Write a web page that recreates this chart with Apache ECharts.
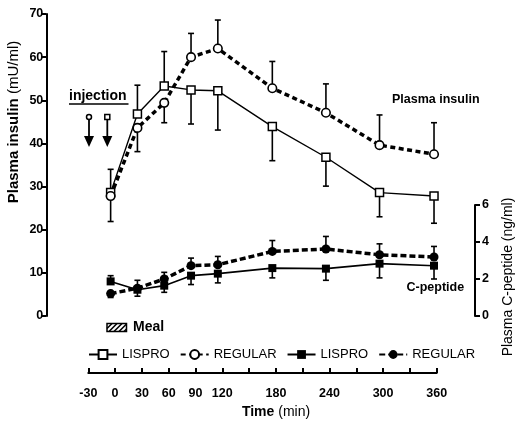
<!DOCTYPE html>
<html>
<head>
<meta charset="utf-8">
<script src="https://cdn.jsdelivr.net/npm/echarts@6/dist/echarts.min.js"></script>
<style>
html,body{margin:0;padding:0;background:#fff;}
#chart{width:520px;height:425px;}
</style>
</head>
<body>
<div id="chart"></div>
<script>
// ---- data ----
var times = [-5, 25, 55, 85, 115, 176, 236, 296, 357];
var xTickLabels = [-30, 0, 30, 60, 90, 120, 180, 240, 300, 360];
var insulinTicks = [0, 10, 20, 30, 40, 50, 60, 70];
var cpepTicks = [0, 2, 4, 6];

var insulinLispro     = [28.6, 46.8, 53.3, 52.4, 52.2, 43.9, 36.8, 28.6, 27.8];
var insulinLisproBar  = [34.0, 53.5, 61.3, 44.5, 43.1, 36.0, 30.1, 23.0, 21.5];
var insulinRegular    = [27.8, 43.6, 49.4, 60.0, 62.0, 52.8, 47.1, 39.6, 37.5];
var insulinRegularBar = [21.9, 38.1, 44.8, 65.5, 68.6, 59.0, 53.8, 46.6, 44.8];

var cpepLispro     = [1.87, 1.42, 1.64, 2.18, 2.29, 2.59, 2.56, 2.83, 2.72];
var cpepLisproBar  = [2.18, 1.07, 1.28, 1.70, 1.79, 2.06, 1.93, 2.06, 2.00];
var cpepRegular    = [1.21, 1.50, 2.00, 2.72, 2.77, 3.49, 3.62, 3.31, 3.19];
var cpepRegularBar = [1.00, 1.93, 2.36, 3.13, 3.22, 4.08, 4.30, 3.90, 3.76];

var FONT = 'Liberation Sans';

function pts(vals) { return times.map(function (t, i) { return [t, vals[i]]; }); }
function bars(vals, ends) { return times.map(function (t, i) { return [t, vals[i], ends[i]]; }); }

function errRender(params, api) {
  var x = api.value(0), y = api.value(1), e = api.value(2);
  var p0 = api.coord([x, y]);
  var p1 = api.coord([x, e]);
  var hw = 3;
  var st = { stroke: '#000', lineWidth: 1.6 };
  return {
    type: 'group',
    children: [
      { type: 'line', shape: { x1: p0[0], y1: p0[1], x2: p1[0], y2: p1[1] }, style: st },
      { type: 'line', shape: { x1: p1[0] - hw, y1: p1[1], x2: p1[0] + hw, y2: p1[1] }, style: st }
    ]
  };
}

function errSeries(vals, ends, gi) {
  return {
    type: 'custom', xAxisIndex: gi, yAxisIndex: gi, z: 1,
    renderItem: errRender, data: bars(vals, ends),
    encode: { x: 0, y: [1, 2] }, silent: true
  };
}

// hatch lines for the meal box
function hatch(x, y, w, h) {
  var out = [];
  for (var k = 0; k < 5; k++) {
    var x1 = x - 3 + k * 5, y1 = y + h, x2 = x1 + h, y2 = y;
    if (x1 < x) { y1 = y + h - (x - x1); x1 = x; }
    if (x2 > x + w) { y2 = y + (x2 - (x + w)); x2 = x + w; }
    if (x2 > x1) out.push({ type: 'line', shape: { x1: x1, y1: y1, x2: x2, y2: y2 }, style: { stroke: '#000', lineWidth: 1.6 } });
  }
  return out;
}

function arrow(x, marker) {
  var items = [];
  if (marker === 'circle') {
    items.push({ type: 'circle', shape: { cx: x, cy: 117, r: 2.5 }, style: { fill: '#fff', stroke: '#000', lineWidth: 1.5 } });
  } else {
    items.push({ type: 'rect', shape: { x: x - 2.5, y: 114.5, width: 5, height: 5 }, style: { fill: '#fff', stroke: '#000', lineWidth: 1.5 } });
  }
  items.push({ type: 'line', shape: { x1: x, y1: 120, x2: x, y2: 137 }, style: { stroke: '#000', lineWidth: 1.8 } });
  items.push({ type: 'polygon', shape: { points: [[x - 5, 136], [x + 5, 136], [x, 147]] }, style: { fill: '#000' } });
  return items;
}

var chart = echarts.init(document.getElementById('chart'));

var gridL = 88.3, gridR = 83.3;

var option = {
  backgroundColor: '#fff',
  animation: false,
  textStyle: { fontFamily: FONT, color: '#000' },
  grid: [
    { left: gridL, right: gridR, top: 14, bottom: 109 },
    { left: gridL, right: gridR, top: 205, bottom: 109 }
  ],
  xAxis: [
    {
      type: 'value', gridIndex: 0, min: -30, max: 360, interval: 30,
      position: 'bottom', offset: 57,
      axisLine: { show: true, onZero: false, lineStyle: { color: '#000', width: 2 } },
      axisTick: { show: true, inside: true, length: 5, lineStyle: { color: '#000', width: 2 } },
      axisLabel: {
        color: '#000', fontFamily: FONT, fontWeight: 'bold', fontSize: 12.5, margin: 14,
        formatter: function (v) { return xTickLabels.indexOf(v) >= 0 ? String(v) : ''; }
      },
      splitLine: { show: false }
    },
    { type: 'value', gridIndex: 1, min: -30, max: 360, show: false, axisLine: { onZero: false } }
  ],
  yAxis: [
    {
      type: 'value', gridIndex: 0, min: insulinTicks[0], max: insulinTicks[insulinTicks.length - 1], interval: 10,
      position: 'left', offset: 42,
      axisLine: { show: true, onZero: false, lineStyle: { color: '#000', width: 2 } },
      axisTick: { show: true, length: 5, lineStyle: { color: '#000', width: 2 } },
      axisLabel: { color: '#000', fontFamily: FONT, fontWeight: 'bold', fontSize: 12.5, margin: 3 },
      splitLine: { show: false }
    },
    {
      type: 'value', gridIndex: 1, min: cpepTicks[0], max: cpepTicks[cpepTicks.length - 1], interval: 2,
      position: 'right', offset: 38.3,
      axisLine: { show: true, onZero: false, lineStyle: { color: '#000', width: 2 } },
      axisTick: { show: true, length: 5, lineStyle: { color: '#000', width: 2 } },
      axisLabel: { color: '#000', fontFamily: FONT, fontWeight: 'bold', fontSize: 12.5, margin: 7 },
      splitLine: { show: false }
    }
  ],
  legend: {
    left: 83, top: 343, itemWidth: 28, itemHeight: 11, itemGap: 10,
    selectedMode: false,
    data: ['LISPRO insulin', 'REGULAR insulin', 'LISPRO cpeptide', 'REGULAR cpeptide'],
    formatter: function (n) { return n.split(' ')[0]; },
    textStyle: { fontFamily: FONT, fontSize: 13, color: '#000' }
  },
  series: [
    errSeries(insulinLispro, insulinLisproBar, 0),
    errSeries(insulinRegular, insulinRegularBar, 0),
    errSeries(cpepLispro, cpepLisproBar, 1),
    errSeries(cpepRegular, cpepRegularBar, 1),
    {
      name: 'LISPRO insulin', type: 'line', xAxisIndex: 0, yAxisIndex: 0, z: 3,
      data: pts(insulinLispro), symbol: 'rect', symbolSize: 8, showAllSymbol: true,
      lineStyle: { color: '#000', width: 1.4, type: 'solid' },
      itemStyle: { color: '#fff', borderColor: '#000', borderWidth: 1.5 }
    },
    {
      name: 'REGULAR insulin', type: 'line', xAxisIndex: 0, yAxisIndex: 0, z: 3,
      data: pts(insulinRegular), symbol: 'circle', symbolSize: 8.5, showAllSymbol: true,
      lineStyle: { color: '#000', width: 3.5, type: [5, 3.5] },
      itemStyle: { color: '#fff', borderColor: '#000', borderWidth: 1.6 }
    },
    {
      name: 'LISPRO cpeptide', type: 'line', xAxisIndex: 1, yAxisIndex: 1, z: 3,
      data: pts(cpepLispro), symbol: 'rect', symbolSize: 8, showAllSymbol: true,
      lineStyle: { color: '#000', width: 1.6, type: 'solid' },
      itemStyle: { color: '#000', borderColor: '#000', borderWidth: 0 }
    },
    {
      name: 'REGULAR cpeptide', type: 'line', xAxisIndex: 1, yAxisIndex: 1, z: 3,
      data: pts(cpepRegular), symbol: 'circle', symbolSize: 9, showAllSymbol: true,
      lineStyle: { color: '#000', width: 3.5, type: [6, 3] },
      itemStyle: { color: '#000', borderColor: '#000', borderWidth: 0 }
    }
  ],
  graphic: [].concat(
    [
      {
        type: 'text', x: 14, y: 122, rotation: Math.PI / 2,
        style: {
          text: '{b|Plasma insulin} {n|(mU/ml)}', align: 'center', verticalAlign: 'middle',
          rich: {
            b: { fontFamily: FONT, fontSize: 15, fontWeight: 'bold', fill: '#000' },
            n: { fontFamily: FONT, fontSize: 15, fill: '#000' }
          },
          fontFamily: FONT, fontSize: 15, fill: '#000'
        }
      },
      {
        type: 'text', x: 508, y: 277, rotation: Math.PI / 2,
        style: { text: 'Plasma C-peptide (ng/ml)', align: 'center', verticalAlign: 'middle', fontFamily: FONT, fontSize: 14, fill: '#000' }
      },
      {
        type: 'text', x: 276, y: 412,
        style: {
          text: '{b|Time} {n|(min)}', align: 'center', verticalAlign: 'middle',
          rich: {
            b: { fontFamily: FONT, fontSize: 14, fontWeight: 'bold', fill: '#000' },
            n: { fontFamily: FONT, fontSize: 14, fill: '#000' }
          },
          fontFamily: FONT, fontSize: 14, fill: '#000'
        }
      },
      {
        type: 'text', x: 392, y: 100,
        style: { text: 'Plasma insulin', align: 'left', verticalAlign: 'middle', fontFamily: FONT, fontSize: 12.5, fontWeight: 'bold', fill: '#000' }
      },
      {
        type: 'text', x: 406.5, y: 288,
        style: { text: 'C-peptide', align: 'left', verticalAlign: 'middle', fontFamily: FONT, fontSize: 12.5, fontWeight: 'bold', fill: '#000' }
      },
      {
        type: 'text', x: 69, y: 96.5,
        style: { text: 'injection', align: 'left', verticalAlign: 'middle', fontFamily: FONT, fontSize: 14, fontWeight: 'bold', fill: '#000' }
      },
      { type: 'line', shape: { x1: 69, y1: 104, x2: 128.5, y2: 104 }, style: { stroke: '#000', lineWidth: 1.5 } },
      {
        type: 'text', x: 133, y: 327.5,
        style: { text: 'Meal', align: 'left', verticalAlign: 'middle', fontFamily: FONT, fontSize: 14, fontWeight: 'bold', fill: '#000' }
      },
      { type: 'rect', shape: { x: 107, y: 323.5, width: 19.5, height: 8 }, style: { fill: '#fff', stroke: '#000', lineWidth: 1.5 } }
    ],
    hatch(107, 323.5, 19.5, 8),
    arrow(89, 'circle'),
    arrow(107.3, 'rect')
  )
};

chart.setOption(option);
</script>
</body>
</html>
